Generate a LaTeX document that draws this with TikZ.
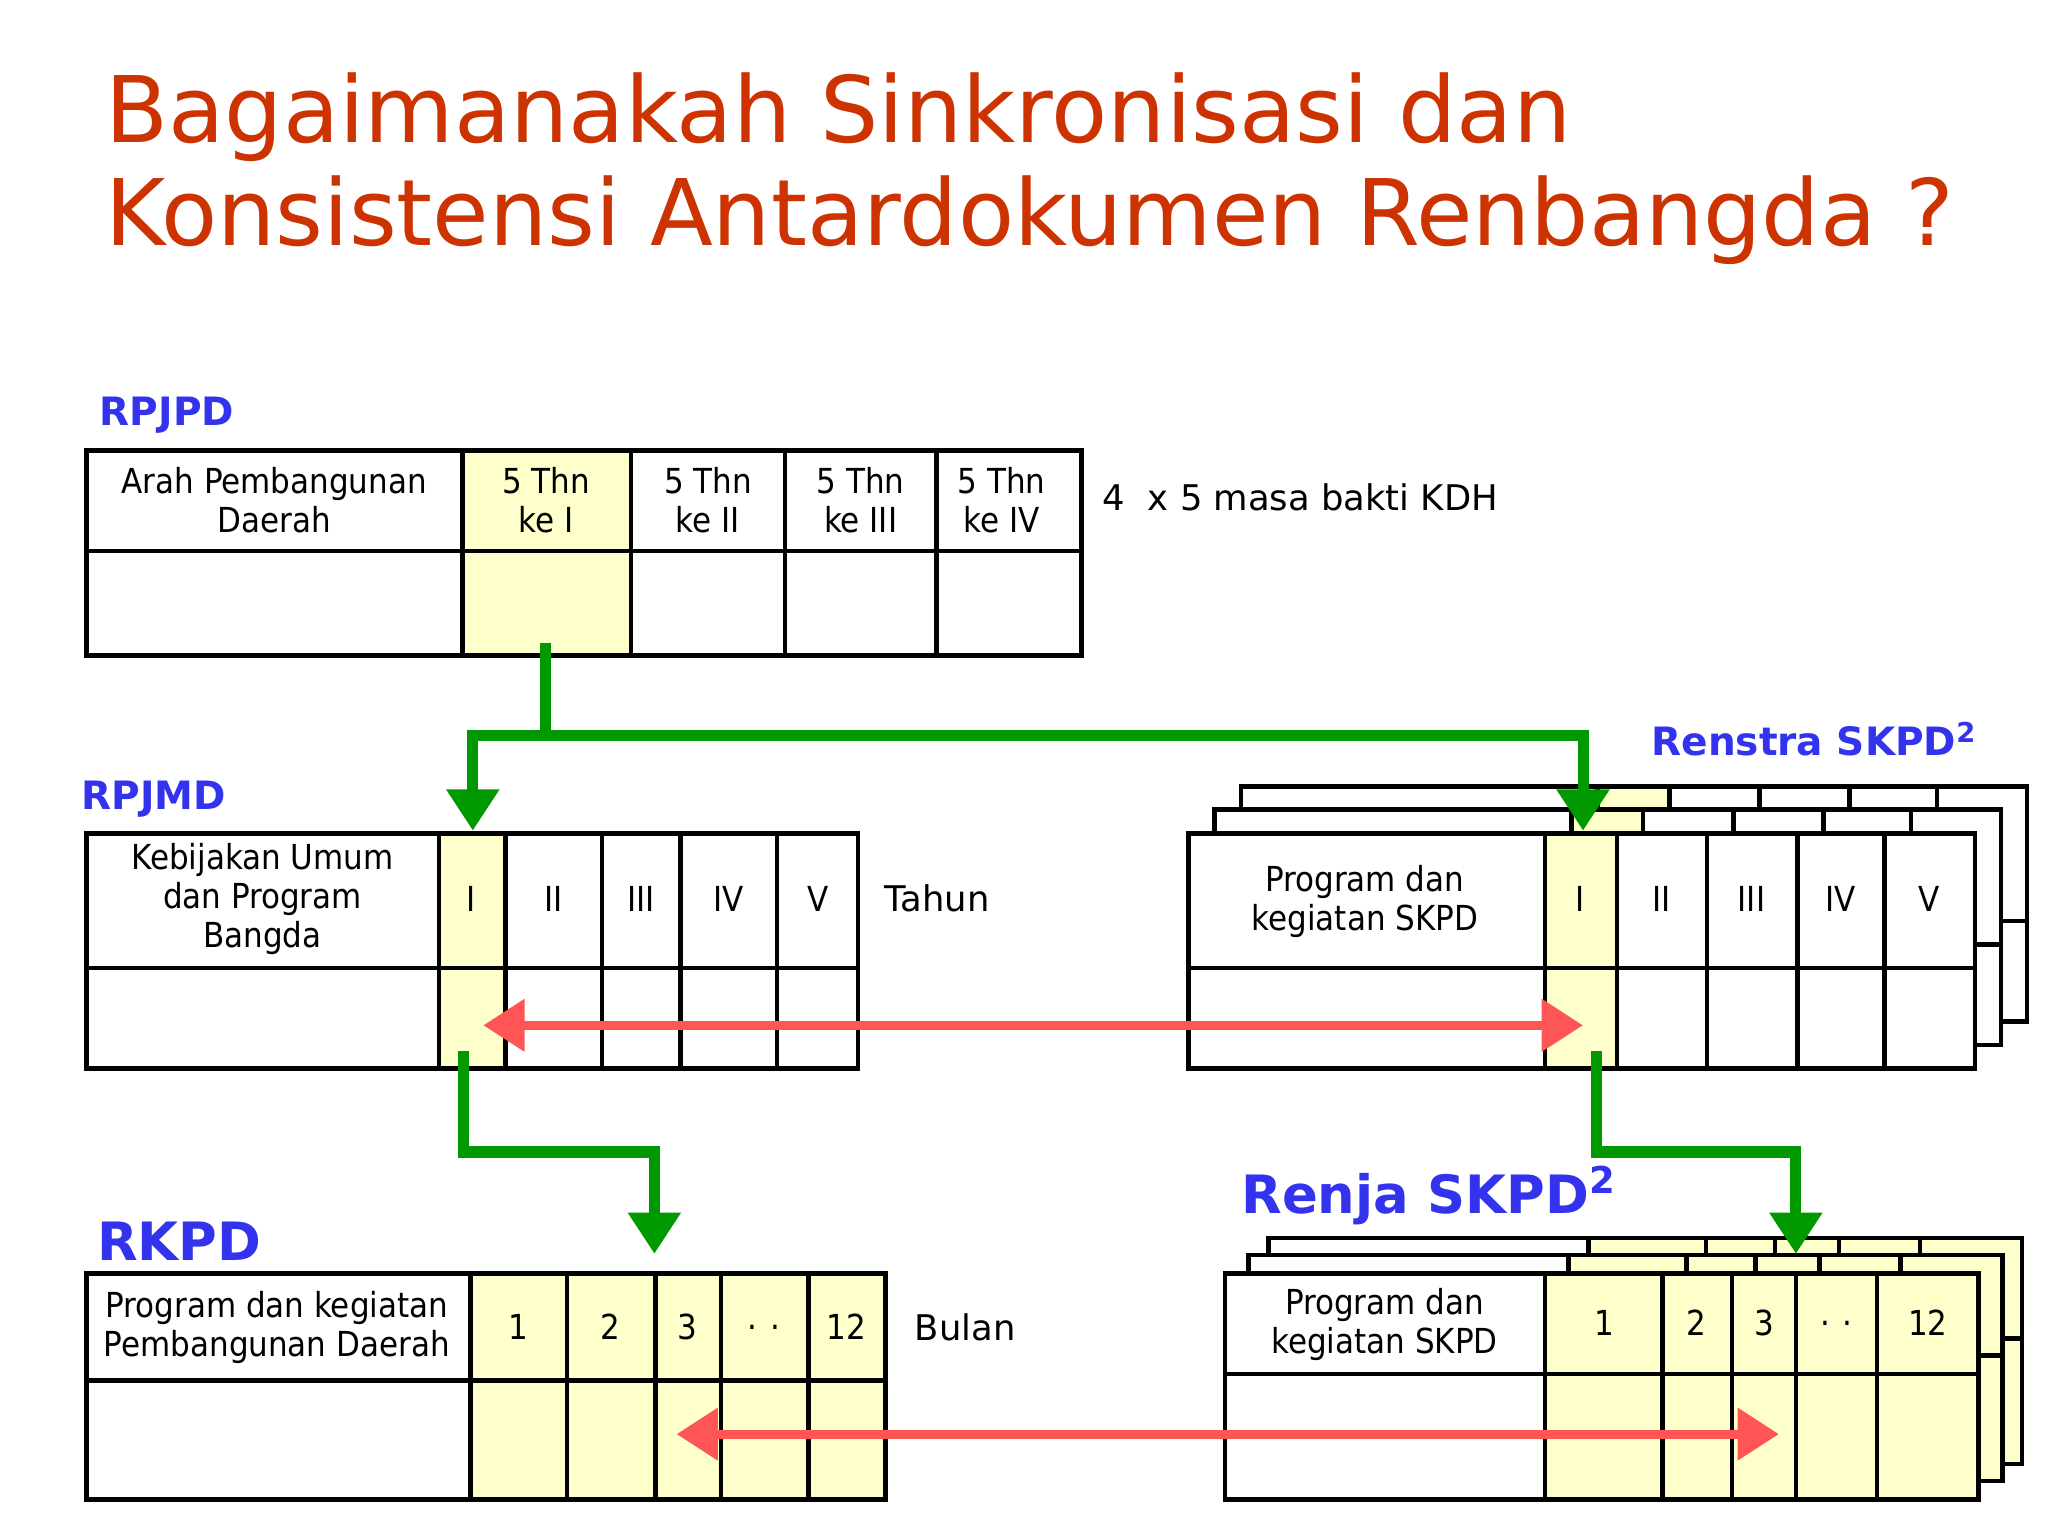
\documentclass[tikz,border=0pt]{standalone}
\usepackage{fontspec}
\setmainfont{DejaVu Sans}
\newfontfamily\cellfont{DejaVu Sans Condensed}
\usetikzlibrary{arrows.meta}
\definecolor{ttl}{HTML}{CC3300}
\definecolor{lbl}{HTML}{3333EE}
\definecolor{yel}{HTML}{FFFFCC}
\definecolor{grn}{HTML}{009900}
\definecolor{rd}{HTML}{FF5555}
\tikzset{
 cell/.style={draw=black,line width=1pt},
 ytxt/.style={font=\cellfont\fontsize{7.5}{8.5}\selectfont,align=center},
 lab/.style={text=lbl,font=\bfseries\fontsize{8.5}{10}\selectfont,anchor=west},
 biglab/.style={text=lbl,font=\bfseries\fontsize{11.5}{13}\selectfont,anchor=west},
 side/.style={font=\fontsize{7.7}{9}\selectfont,anchor=west},
 garrow/.style={draw=grn,line width=2.4pt,-{Triangle[length=9pt,width=11pt]}},
 gline/.style={draw=grn,line width=2.4pt},
 rarrow/.style={draw=rd,line width=2pt,{Triangle[length=9pt,width=11pt]}-{Triangle[length=9pt,width=11pt]}}
}
\newcommand\mytable[8]{%
 \fill[white] (#1,#2) rectangle (#3,#4);
 \fill[yel] (#7,#2) rectangle (#8,#4);
 \draw[cell] (#1,#2) rectangle (#3,#4);
 \draw[cell] (#1,#5) -- (#3,#5);
 \foreach \c in {#6} {\draw[cell] (\c,#2) -- (\c,#4);}
}
\begin{document}
\begin{tikzpicture}[x=0.01cm,y=-0.01cm]
\useasboundingbox (0,0) rectangle (1568,1176);
\fill[white] (0,0) rectangle (1568,1176);
\node[anchor=north west,text=ttl,font=\fontsize{20}{22.5}\selectfont,align=left,inner sep=0] (title) at (80,55)
 {Bagaimanakah Sinkronisasi dan\\Konsistensi Antardokumen Renbangda ?};
% RPJPD
\node[lab] (l1) at (64,318) {RPJPD};
\mytable{66}{345}{828}{502}{422}{354,483,601,717}{354}{483}
\node[ytxt] (a1) at (210,383) {Arah Pembangunan\\Daerah};
\node[ytxt] (a2) at (418,383) {5 Thn\\ke I};
\node[ytxt] (a3) at (542,383) {5 Thn\\ke II};
\node[ytxt] (a4) at (659,383) {5 Thn\\ke III};
\node[ytxt] (a5) at (767,383) {5 Thn\\ke IV};
\node[side] (s1) at (832,381) {4 \ x 5 masa bakti KDH};
% RPJMD
\node[lab] (l2) at (50,612) {RPJMD};
\mytable{66}{638}{657}{818}{741}{336,387,461,521,595}{336}{387}
\node[ytxt] (b1) at (201,688) {Kebijakan Umum\\dan Program\\Bangda};
\node[ytxt] (b2) at (361,688) {I};
\node[ytxt] (b3) at (424,688) {II};
\node[ytxt] (b4) at (491,688) {III};
\node[ytxt] (b5) at (558,688) {IV};
\node[ytxt] (b6) at (626,688) {V};
\node[side] (s2) at (665,688) {Tahun};
% Renstra
\node[lab] (l3) at (1252,566) {Renstra SKPD\textsuperscript{2}};
\mytable{950}{602}{1552}{782}{705}{1223,1278,1347,1416,1483}{1223}{1278}
\mytable{930}{620}{1532}{800}{723}{1203,1258,1327,1396,1463}{1203}{1258}
\mytable{910}{638}{1512}{818}{741}{1183,1238,1307,1376,1443}{1183}{1238}
\node[ytxt] (c1) at (1045,690) {Program dan\\kegiatan SKPD};
\node[ytxt] (c2) at (1210,688) {I};
\node[ytxt] (c3) at (1272,688) {II};
\node[ytxt] (c4) at (1341,688) {III};
\node[ytxt] (c5) at (1409,688) {IV};
\node[ytxt] (c6) at (1477,688) {V};
% RKPD
\node[biglab] (l4) at (62,950) {RKPD};
\mytable{66}{975}{678}{1148}{1057}{360,434,502,552,619}{360}{678}
\node[ytxt] (d1) at (212,1016) {Program dan kegiatan\\Pembangunan Daerah};
\node[ytxt] (d2) at (397,1016) {1};
\node[ytxt] (d3) at (467,1016) {2};
\node[ytxt] (d4) at (526,1016) {3};
\node[ytxt] (d5) at (585,1016) {. .};
\node[ytxt] (d6) at (648,1016) {12};
\node[side] (s3) at (688,1016) {Bulan};
% Renja
\node[biglab] (l5) at (938,915) {Renja SKPD\textsuperscript{2}};
\mytable{971}{948}{1548}{1121}{1025}{1216,1306,1359,1408,1470}{1216}{1548}
\mytable{956}{961}{1533}{1134}{1038}{1201,1291,1344,1393,1455}{1201}{1533}
\mytable{938}{975}{1515}{1148}{1052}{1183,1273,1326,1375,1437}{1183}{1515}
\node[ytxt] (e1) at (1060,1014) {Program dan\\kegiatan SKPD};
\node[ytxt] (e2) at (1228,1013) {1};
\node[ytxt] (e3) at (1299,1013) {2};
\node[ytxt] (e4) at (1351,1013) {3};
\node[ytxt] (e5) at (1406,1013) {. .};
\node[ytxt] (e6) at (1476,1013) {12};
% green arrows
\coordinate (g0) at (418,492);
\coordinate (g1) at (418,563);
\coordinate (g2) at (362,563);
\coordinate (g3) at (362,636);
\coordinate (g4) at (1212,563);
\coordinate (g5) at (1212,636);
\draw[gline] (g0) -- (g1);
\draw[garrow] (g1) -- (g2) -- (g3);
\draw[garrow] (g1) -- (g4) -- (g5);
\coordinate (h0) at (355,805);
\coordinate (h1) at (355,882);
\coordinate (h2) at (501,882);
\coordinate (h3) at (501,960);
\draw[garrow] (h0) -- (h1) -- (h2) -- (h3);
\coordinate (k0) at (1222,805);
\coordinate (k1) at (1222,882);
\coordinate (k2) at (1375,882);
\coordinate (k3) at (1375,960);
\draw[garrow] (k0) -- (k1) -- (k2) -- (k3);
% red arrows
\coordinate (r1) at (370,785);
\coordinate (r2) at (1212,785);
\draw[rarrow] (r1) -- (r2);
\coordinate (r3) at (518,1098);
\coordinate (r4) at (1362,1098);
\draw[rarrow] (r3) -- (r4);
\end{tikzpicture}
\end{document}
